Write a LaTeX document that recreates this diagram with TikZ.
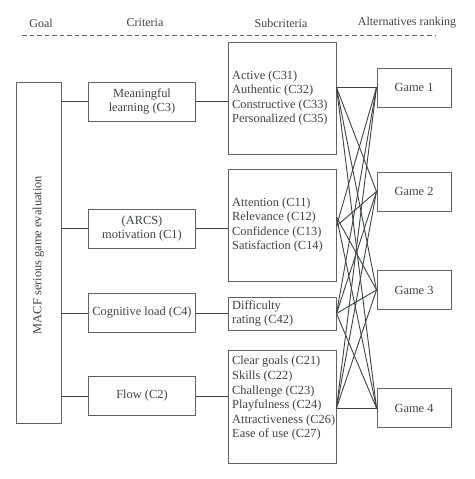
\documentclass[tikz,border=0pt]{standalone}
\usepackage{fontspec}
\setmainfont{Liberation Serif}
\definecolor{ink}{RGB}{60,68,62}
\definecolor{boxline}{RGB}{95,100,96}
\begin{document}
\begin{tikzpicture}[x=1pt,y=-1pt,
  box/.style={draw=boxline, line width=1pt, rectangle, inner sep=0pt, text=ink, align=center},
  conn/.style={draw=ink, line width=0.9pt},
  lbl/.style={text=ink, inner sep=0pt, font=\fontsize{12.4}{14.6}\selectfont},
  hdr/.style={text=ink, inner sep=0pt, font=\fontsize{12}{14}\selectfont},
  every node/.style={font=\fontsize{12.4}{14.6}\selectfont}]
\useasboundingbox (0,0) rectangle (474,479);
% header
\node[hdr] (hgoal) at (41,23) {Goal};
\node[hdr] (hcrit) at (145,23) {Criteria};
\node[hdr] (hsub) at (281,23) {Subcriteria};
\node[hdr] (halt) at (407,23) {Alternatives ranking};
\coordinate (dl) at (22,35);
\coordinate (dr) at (436,35);
\draw[boxline, line width=1pt, dash pattern=on 4.5pt off 3pt] (dl) -- (dr);
% goal
\node[box, minimum width=45, minimum height=341] (goal) at (38.5,252.5) {};
\node[lbl, rotate=90] (goaltext) at (38.5,255) {MACF serious game evaluation};
% criteria
\node[box, minimum width=107, minimum height=39] (ml) at (142,101.5) {Meaningful\\[-1pt]learning (C3)};
\node[box, minimum width=107, minimum height=39] (arcs) at (142,228.5) {(ARCS)\\[-1pt]motivation (C1)};
\node[box, minimum width=107, minimum height=39] (cl) at (142,313) {Cognitive load (C4)};
\node[box, minimum width=107, minimum height=39] (flow) at (142,396) {Flow (C2)};
% subcriteria
\node[box, minimum width=108, minimum height=112] (s3) at (282,98) {};
\node[box, minimum width=108, minimum height=112] (s1) at (282,225) {};
\node[box, minimum width=108, minimum height=33] (s4) at (282,313.5) {};
\node[box, minimum width=108, minimum height=113] (s2) at (282,406.5) {};
\node[lbl, anchor=west, align=left] (t3) at (232,98) {Active (C31)\\Authentic (C32)\\Constructive (C33)\\Personalized (C35)};
\node[lbl, anchor=west, align=left] (t1) at (232,225) {Attention (C11)\\Relevance (C12)\\Confidence (C13)\\Satisfaction (C14)};
\node[lbl, anchor=west, align=left] (t4) at (232,313.5) {Difficulty\\rating (C42)};
\node[lbl, anchor=west, align=left] (t2) at (232,398.5) {Clear goals (C21)\\Skills (C22)\\Challenge (C23)\\Playfulness (C24)\\Attractiveness (C26)\\Ease of use (C27)};
% games
\node[box, minimum width=74, minimum height=39] (g1) at (414,87.5) {Game 1};
\node[box, minimum width=74, minimum height=39] (g2) at (414,191.5) {Game 2};
\node[box, minimum width=74, minimum height=39] (g3) at (414,290) {Game 3};
\node[box, minimum width=74, minimum height=39] (g4) at (414,408) {Game 4};
% goal -> criteria
\foreach \c in {ml,arcs,cl,flow}{
  \draw[conn] (goal.east |- \c.west) -- (\c.west);
  \draw[conn] (\c.east) -- (\c.east -| s3.west);
}
% out points of subcriteria
\coordinate (o3) at (s3.east |- g1.west);
\coordinate (o1a) at ([yshift=-1pt]s1.east);
\coordinate (o1b) at ([yshift=8pt]s1.east);
\coordinate (o4) at (s4.east);
\coordinate (o2) at (s2.east |- g4.west);
\foreach \g in {g1,g2,g3,g4}{
  \draw[conn] (o3) -- (\g.west);
  \draw[conn] (o4) -- (\g.west);
  \draw[conn] (o2) -- (\g.west);
}
\draw[conn] (o1a) -- (g1.west);
\draw[conn] (o1a) -- (g2.west);
\draw[conn] (o1b) -- (g3.west);
\draw[conn] (o1b) -- (g4.west);
\end{tikzpicture}
\end{document}
